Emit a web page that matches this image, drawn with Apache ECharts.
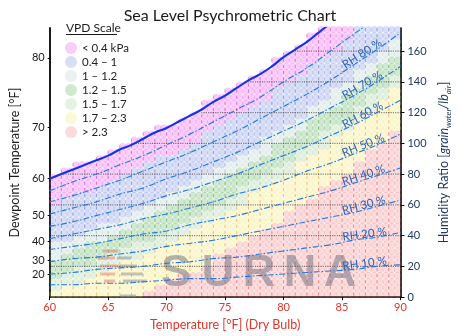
<!DOCTYPE html>
<html><head><meta charset="utf-8">
<script src="https://cdn.jsdelivr.net/npm/echarts@6/dist/echarts.min.js"></script>
<style>html,body{margin:0;padding:0;background:#fff}#c{width:460px;height:336px}</style>
</head><body><div id="c"></div>
<script>
// ---- data ----
const satT = [60,61,62,63,64,65,66,67,68,69,70,71,72,73,74,75,76,77,78,79,80,81,82,83,84,85,86,87,88,89,90];
const satW = [77,80,83,86,89,92,96,99,103,107,110,114,118,122,127,131,136,141,145,150,156,161,166,172,178,184,190,197,203,210,217];
const rhT = [60,62,64,66,68,70,72,74,76,78,80,82,84,86,88,90];
const rh10 = [8,8,9,9,10,11,12,12,13,14,15,16,17,18,20,21];
const rh20 = [15,16,18,19,20,22,23,25,26,28,30,32,34,37,39,42];
const rh30 = [23,25,26,28,30,33,35,37,40,43,46,49,52,55,59,63];
const rh40 = [31,33,35,38,41,43,47,50,53,57,61,65,69,74,79,84];
const rh50 = [38,41,44,47,51,54,58,62,67,71,76,82,87,93,99,106];
const rh60 = [46,49,53,57,61,66,70,75,80,86,92,98,105,112,120,128];
const rh70 = [54,58,62,67,71,77,82,88,94,101,108,115,123,131,140,150];
const rh80 = [62,66,71,76,82,88,94,101,108,116,124,132,141,151,161,172];
const rh90 = [69,75,80,86,92,99,106,114,122,130,140,149,160,171,182,195];
const rhLevels = [10,20,30,40,50,60,70,80,90];
const rhCurves = [rh10,rh20,rh30,rh40,rh50,rh60,rh70,rh80,rh90];
// humidity ratio (grain/lb) at VPD boundaries, per dry-bulb degree (satT)
const vpd04 = [60,62,65,68,71,75,78,81,85,89,92,96,100,104,109,113,118,122,127,132,137,143,148,154,159,165,172,178,185,191,198];
const vpd10 = [33,36,39,42,45,48,51,55,58,62,66,69,73,77,82,86,91,95,100,105,110,115,121,126,132,138,144,150,157,163,170];
const vpd12 = [25,27,30,33,36,39,43,46,49,53,57,61,65,69,73,77,82,86,91,96,101,106,112,117,123,129,135,141,148,154,161];
const vpd15 = [12,14,17,20,23,26,30,33,36,40,44,47,51,55,60,64,68,73,78,82,87,93,98,104,109,115,121,127,134,140,147];
const vpd17 = [3,6,8,11,14,18,21,24,28,31,35,39,43,47,51,55,59,64,69,74,79,84,89,95,100,106,112,118,125,131,138];
const vpd23 = [0,0,0,0,0,0,0,0,2,5,9,13,16,20,24,29,33,38,42,47,52,57,62,68,73,79,85,91,98,104,111];
const vpdBounds = [vpd04,vpd10,vpd12,vpd15,vpd17,vpd23];
const zoneNames = ['< 0.4 kPa','0.4 \u2013 1','1 \u2013 1.2','1.2 \u2013 1.5','1.5 \u2013 1.7','1.7 \u2013 2.3','> 2.3'];
const dewTicks = [20,30,40,50,60,70,80];
const dewW = [15.0,24.1,36.4,53.4,77.3,110.3,155.6];
const wTicks = [0,20,40,60,80,100,120,140,160];

// ---- styles ----
const F = 'Lato';
const zoneFill = ['rgba(232,70,232,0.34)','rgba(95,120,220,0.30)','rgba(175,210,200,0.35)','rgba(60,165,60,0.30)','rgba(150,200,140,0.30)','rgba(245,232,110,0.36)','rgba(240,105,105,0.30)'];
const zoneLine = ['rgba(200,40,190,0.55)','rgba(90,90,190,0.45)','rgba(130,150,160,0.45)','rgba(70,140,70,0.45)','rgba(130,170,120,0.45)','rgba(230,140,40,0.6)','rgba(225,70,70,0.55)'];
const cellT = 0.5, cellW = 4;
const dotPath = 'path://M0,0h1v1h-1zM2,0h1v1h-1zM4,0h1v1h-1zM6,0h1v1h-1zM8,0h1v1h-1zM10,0h1v1h-1z';

function zoneOf(i, w){
  for (let k=0;k<vpdBounds.length;k++){
    const b=(vpdBounds[k][i]+vpdBounds[k][i+1])/2;
    if (w>=b) return k;
  }
  return vpdBounds.length;
}
const zoneData = zoneNames.map(()=>[]);
const gridData = [];
for (let i=0;i<satT.length-1;i++){
  const t0=satT[i];
  const top=(satW[i]+satW[i+1])/2;
  let wLast=0;
  for (let w=cellW/2; w-cellW/2<top; w+=cellW){
    const z=zoneOf(i,w);
    zoneData[z].push({value:[t0+cellT/2,w]});
    zoneData[z].push({value:[t0+cellT*1.5,w]});
    if (i>0) zoneData[z].push({value:[t0,w],symbol:'rect',symbolSize:[1,3],itemStyle:{color:zoneLine[z]}});
    wLast=w;
  }
  wTicks.forEach(v=>{ if (v>0 && v<wLast+cellW/2) gridData.push([t0+0.5,v]); });
}

const series = [];
zoneNames.forEach((n,k)=>{
  series.push({type:'scatter',name:n,data:zoneData[k],symbol:'circle',symbolSize:7,clip:true,large:false,z:1,
    silent:true,itemStyle:{color:zoneFill[k]},emphasis:{disabled:true}});
});
series.push({type:'scatter',name:'grid',data:gridData,symbol:dotPath,symbolSize:[12.6,1.2],symbolKeepAspect:false,clip:true,z:2,silent:true,
  itemStyle:{color:'rgba(60,60,60,0.8)'},emphasis:{disabled:true}});
rhCurves.forEach((c,j)=>{
  series.push({type:'line',name:'RH'+rhLevels[j],data:rhT.map((t,i)=>[t,c[i]]),smooth:true,showSymbol:false,symbol:'none',z:5,clip:true,silent:true,
    lineStyle:{color:'#1f78e0',width:1.1,type:[6,2,1.5,2]}});
});
series.push({type:'line',name:'sat',data:satT.map((t,i)=>[t,satW[i]]),smooth:true,symbol:'none',z:6,clip:true,silent:true,
  lineStyle:{color:'#1530f0',width:2.1}});

const chart = echarts.init(document.getElementById('c'),null,{renderer:'canvas'});
const option = {
  animation:false,
  backgroundColor:'#fff',
  title:{text:'Sea Level Psychrometric Chart',left:'center',top:3,textStyle:{fontFamily:F,fontSize:16,fontWeight:'normal',color:'#1a1a1a'}},
  legend:{data:zoneNames,orient:'vertical',left:60,top:37,itemWidth:12,itemHeight:12,itemGap:2,icon:'circle',selectedMode:false,
    textStyle:{fontFamily:F,fontSize:11.5,color:'#222'}},
  grid:{left:39,right:42,top:28,bottom:32},
  xAxis:{type:'value',min:60,max:90,interval:5,
    axisLine:{show:true,lineStyle:{color:'#000',width:1.6}},axisTick:{show:true,length:3,lineStyle:{color:'#000'}},
    axisLabel:{color:'#e0352b',fontFamily:F,fontSize:11,margin:5},splitLine:{show:false},
    name:'Temperature [\u00b0F] (Dry Bulb)',nameLocation:'middle',nameGap:17,nameTextStyle:{color:'#e0352b',fontFamily:F,fontSize:12.5}},
  yAxis:[
    {type:'value',position:'right',min:0,max:175,interval:20,
      axisLine:{show:true,onZero:false,lineStyle:{color:'#000',width:1.6}},axisTick:{show:true,length:4,lineStyle:{color:'#000'},customValues:wTicks},
      axisLabel:{color:'#1f3864',fontFamily:F,fontSize:11,margin:7,customValues:wTicks},
      splitLine:{show:false},
      name:'{n|Humidity Ratio [}{i|grain}{s|water}{i|/lb}{s|air}{n|]}',nameLocation:'middle',nameRotate:90,nameGap:24,
      nameTextStyle:{color:'#1f3864',fontFamily:F,fontSize:12.5,rich:{
        n:{fontFamily:F,fontSize:12.5,color:'#1f3864',lineHeight:16},
        i:{fontFamily:F,fontSize:12.5,fontStyle:'italic',color:'#1f3864',lineHeight:16},
        s:{fontFamily:F,fontSize:8,fontStyle:'italic',color:'#1f3864',verticalAlign:'bottom',lineHeight:16,padding:[6,0,0,0]}}}},
    {type:'value',position:'left',min:0,max:175,
      axisLine:{show:true,onZero:false,lineStyle:{color:'#000',width:1.8}},
      axisTick:{show:true,length:2,lineStyle:{color:'#000'},customValues:dewW},
      axisLabel:{color:'#1a1a1a',fontFamily:F,fontSize:11,margin:5,customValues:dewW,
        formatter:function(v){const i=dewW.indexOf(v);return i>=0?String(dewTicks[i]):'';}},
      splitLine:{show:false},
      name:'Dewpoint Temperature [\u00b0F]',nameLocation:'middle',nameRotate:90,nameGap:21,
      nameTextStyle:{color:'#1a1a1a',fontFamily:F,fontSize:12.5}}
  ],
  series:series
};
chart.setOption(option);

// graphic: legend title, watermark, RH labels
const g = [];
g.push({type:'text',left:66,top:22,z:10,style:{text:'VPD Scale',fill:'#1a1a1a',font:'12px '+F}});
g.push({type:'rect',shape:{x:66,y:34,width:51,height:1},z:10,style:{fill:'#1a1a1a'}});
const wm = ['S','U','R','N','A'];
const wmX = [176,218,259,300,340];
wm.forEach((ch,i)=>g.push({type:'text',x:wmX[i],y:296,z:3,silent:true,style:{text:ch,fill:'rgba(105,110,125,0.5)',font:'bold 45px "Liberation Sans"',align:'center',verticalAlign:'bottom'}}));
const bars = [[103,251,15,0],[98,258,17,0],[117,258,14,1],[100,266,19,0],[120,266,17,1],[100,274,15,0],[121,274,22,1],[104,281,11,0],[123,281,24,1],[120,296,16,1]];
bars.forEach(b=>g.push({type:'rect',shape:{x:b[0],y:b[1]-1.5,width:b[2],height:3},z:3,silent:true,style:{fill:b[3]?'rgba(120,130,140,0.45)':'rgba(225,110,100,0.45)'}}));
rhCurves.forEach((c,j)=>{
  if (rhLevels[j]>80) return;
  const i1=rhT.indexOf(86), i2=rhT.indexOf(88);
  const p1=chart.convertToPixel({xAxisIndex:0,yAxisIndex:0},[rhT[i1],c[i1]]);
  const p2=chart.convertToPixel({xAxisIndex:0,yAxisIndex:0},[rhT[i2],c[i2]]);
  const ang=Math.atan2(p1[1]-p2[1],p2[0]-p1[0]);
  g.push({type:'text',x:(p1[0]+p2[0])/2,y:(p1[1]+p2[1])/2+1.5,rotation:ang,z:12,silent:true,
    style:{text:'RH '+rhLevels[j]+' %',fill:'#2a62b8',font:'11.5px '+F,align:'center',verticalAlign:'bottom'}});
});
chart.setOption({graphic:g});
</script></body></html>
